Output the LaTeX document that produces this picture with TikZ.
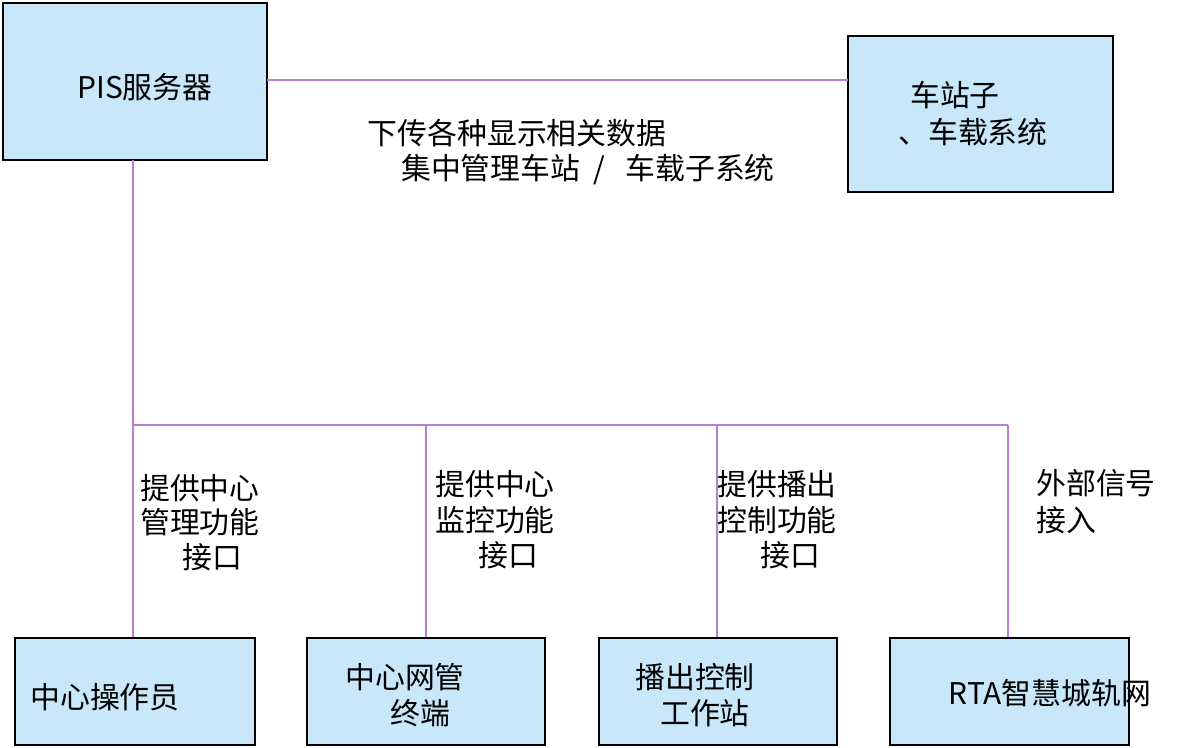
\documentclass[tikz,border=0pt]{standalone}
\usepackage{fontspec}
\setmainfont{Noto Sans CJK SC}
\begin{document}
\begin{tikzpicture}[x=0.02cm,y=-0.02cm,
  box/.style={draw=black,line width=1.3pt,fill=boxblue},
  wire/.style={draw=wirepurple,line width=1.1pt},
  lbl/.style={font=\fontsize{17}{20}\selectfont,inner sep=0pt}]
\definecolor{boxblue}{HTML}{C8E8FA}
\definecolor{wirepurple}{HTML}{B77FD6}
\useasboundingbox (0,0) rectangle (1188,748);
\draw[box] (3,3) rectangle (267,160); \node[lbl] (pis) at (145,87) {PIS服务器};
\coordinate (pisR) at (267,80);
\draw[box] (848,36) rectangle (1113,192);
\node[lbl] (cz1) at (955,95) {车站子};
\node[lbl] (cz2) at (973,132) {、车载系统};
\coordinate (czL) at (848,80);
\draw[wire] (pisR) -- (czL);
\node[lbl] (t1) at (517,133) {下传各种显示相关数据};
\node[lbl] (t2) at (588,170) {集中管理车站\ \ /\ \ \ 车载子系统};
\foreach \x/\n in {133/a,426/b,717/c,1008/d}{
  \coordinate (top\n) at (\x,425);
  \coordinate (bot\n) at (\x,638);}
\coordinate (pisB) at (133,160);
\draw[wire] (pisB) -- (bota);
\draw[wire] (topa) -- (topd);
\draw[wire] (topb) -- (botb);
\draw[wire] (topc) -- (botc);
\draw[wire] (topd) -- (botd);
\draw[box] (15,638) rectangle (255,745);
\draw[box] (307,638) rectangle (545,745);
\draw[box] (599,638) rectangle (837,745);
\draw[box] (890,638) rectangle (1129,745);
\node[lbl] (b1) at (105,697) {中心操作员};
\node[lbl] (b2a) at (405,677) {中心网管};
\node[lbl] (b2b) at (420,713) {终端};
\node[lbl] (b3a) at (695,677) {播出控制};
\node[lbl] (b3b) at (705,713) {工作站};
\node[lbl] (b4) at (1050,693) {RTA智慧城轨网};
\node[lbl] at (200,488) {提供中心};
\node[lbl] at (200,522) {管理功能};
\node[lbl] at (212,557) {接口};
\node[lbl] at (495,484) {提供中心};
\node[lbl] at (495,520) {监控功能};
\node[lbl] at (508,555) {接口};
\node[lbl] at (777,484) {提供播出};
\node[lbl] at (777,520) {控制功能};
\node[lbl] at (790,555) {接口};
\node[lbl,anchor=west] at (1036,483) {外部信号};
\node[lbl,anchor=west] at (1036,520) {接入};
\end{tikzpicture}
\end{document}
